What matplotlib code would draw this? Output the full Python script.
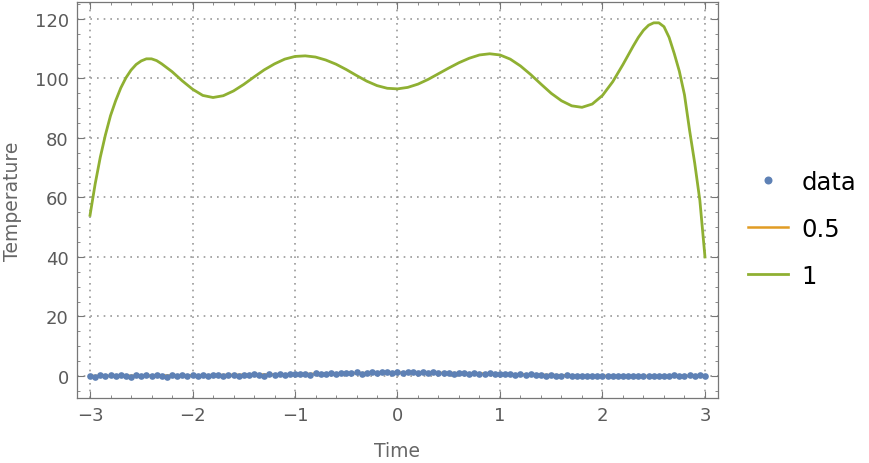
import numpy as np
import matplotlib
matplotlib.use('Agg')
import matplotlib.pyplot as plt
from matplotlib.ticker import MultipleLocator

plt.rcParams['font.family'] = ['DejaVu Sans']

# noisy measurements, x from -3 to 3 in steps of 0.05
data_x = np.round(np.arange(-3.0, 3.0001, 0.05), 2)
data_y = [
    0.1, -0.2, 0.3, 0.0, 0.2, -0.1, 0.3, 0.1, -0.2, 0.2,
    0.0, 0.3, -0.1, 0.2, 0.1, -0.2, 0.2, 0.0, 0.3, -0.1,
    0.2, 0.1, 0.4, -0.1, 0.2, 0.3, 0.0, 0.4, 0.2, 0.1,
    0.4, 0.2, 0.5, 0.3, 0.1, 0.5, 0.4, 0.7, 0.3, 0.6,
    0.5, 0.8, 0.6, 0.4, 0.9, 0.7, 0.8, 1.0, 0.7, 1.1,
    0.9, 1.0, 1.2, 0.8, 1.1, 1.3, 1.0, 1.2, 1.4, 1.1,
    1.3, 1.1, 1.4, 1.2, 1.0, 1.3, 1.1, 1.2, 0.9, 1.1,
    1.0, 0.8, 1.1, 0.9, 0.7, 1.0, 0.8, 0.6, 0.9, 0.7,
    0.6, 0.5, 0.7, 0.4, 0.5, 0.3, 0.5, 0.2, 0.3, 0.1,
    0.2, 0.0, 0.1, 0.2, -0.1, 0.1, 0.0, 0.1, -0.1, 0.0,
    0.1, -0.1, 0.0, 0.1, 0.0, -0.1, 0.1, 0.0, -0.1, 0.1,
    0.0, -0.1, 0.1, 0.0, 0.2, -0.1, 0.1, 0.3, 0.0, 0.2,
    0.0,
]

# fit with parameter 0.5
fit05_x = [-3.0, -2.5, -2.0, -1.5, -1.0, -0.5, 0.0, 0.5, 1.0, 1.5, 2.0, 2.5, 3.0]
fit05_y = [0.0, 0.1, 0.2, 0.4, 0.6, 0.9, 1.1, 1.0, 0.7, 0.3, 0.05, 0.0, 0.1]

# fit with parameter 1
fit1_x = [
    -3.0, -2.95, -2.9, -2.85, -2.8, -2.75, -2.7, -2.65, -2.6, -2.55,
    -2.5, -2.45, -2.4, -2.35, -2.3, -2.2, -2.1, -2.0, -1.9, -1.8,
    -1.7, -1.6, -1.5, -1.4, -1.3, -1.2, -1.1, -1.0, -0.9, -0.8,
    -0.7, -0.6, -0.5, -0.4, -0.3, -0.2, -0.1, 0.0, 0.1, 0.2,
    0.3, 0.4, 0.5, 0.6, 0.7, 0.8, 0.9, 1.0, 1.1, 1.2,
    1.3, 1.4, 1.5, 1.6, 1.7, 1.8, 1.9, 2.0, 2.1, 2.2,
    2.25, 2.3, 2.35, 2.4, 2.45, 2.5, 2.55, 2.6, 2.65, 2.7,
    2.75, 2.8, 2.85, 2.9, 2.95, 3.0,
]
fit1_y = [
    54.0, 64.5, 73.5, 81.0, 87.5, 92.5, 96.8, 100.2, 102.8, 104.7,
    105.9, 106.6, 106.6, 106.0, 104.9, 102.3, 99.2, 96.4, 94.3, 93.6,
    94.2, 95.8, 98.0, 100.5, 102.9, 104.9, 106.5, 107.4, 107.6, 107.2,
    106.2, 104.8, 103.0, 101.0, 99.1, 97.6, 96.7, 96.5, 97.0, 98.1,
    99.7, 101.6, 103.5, 105.3, 106.8, 107.9, 108.3, 107.9, 106.5, 104.2,
    101.3, 98.1, 95.0, 92.5, 90.8, 90.3, 91.4, 94.3, 98.9, 104.7,
    107.8, 110.9, 113.8, 116.2, 117.9, 118.7, 118.7, 117.4, 113.8, 108.4,
    102.4, 94.5, 82.5, 71.5, 59.0, 40.0,
]

fig = plt.figure(figsize=(8.7, 4.64), dpi=100)
ax = fig.add_axes([77 / 870, 1 - 399 / 464, 641 / 870, 396 / 464])

ax.plot(data_x, data_y, 'o', color='#5E81B5', ms=4.8, mec='none', label='data', zorder=3)
ax.plot(fit05_x, fit05_y, color='#E19C24', lw=1.8, label='0.5', zorder=2)
ax.plot(fit1_x, fit1_y, color='#8FB032', lw=2.0, label='1', zorder=2)

ax.set_xlim(-3.127, 3.127)
ax.set_ylim(-7.4, 125.7)

ax.xaxis.set_major_locator(MultipleLocator(1))
ax.xaxis.set_minor_locator(MultipleLocator(0.2))
ax.yaxis.set_major_locator(MultipleLocator(20))
ax.yaxis.set_minor_locator(MultipleLocator(5))
ax.xaxis.set_major_formatter(plt.FuncFormatter(lambda v, p: f'{v:.0f}'.replace('-', '\u2212')))

ax.tick_params(which='both', direction='in', top=True, right=True,
               color='#777777', labelcolor='#5a5a5a', labelsize=13)
ax.tick_params(which='major', length=5, width=0.8, pad=6)
ax.tick_params(which='minor', length=2.5, width=0.6)
for s in ax.spines.values():
    s.set_color('#777777')
    s.set_linewidth(0.9)

ax.grid(True, which='major', linestyle=(0, (1, 3)), color='#999999', lw=1.2)

ax.set_xlabel('Time', color='#666666', fontsize=13.5, labelpad=12)
ax.set_ylabel('Temperature', color='#666666', fontsize=13.5, labelpad=9)

ax.legend(loc='center left', bbox_to_anchor=(1.047, 0.427), frameon=False,
          borderaxespad=0, borderpad=0, fontsize=17.5, handlelength=1.65,
          handletextpad=0.55, labelspacing=0.95, markerscale=1.2)

fig.savefig('out.png', dpi=100)
